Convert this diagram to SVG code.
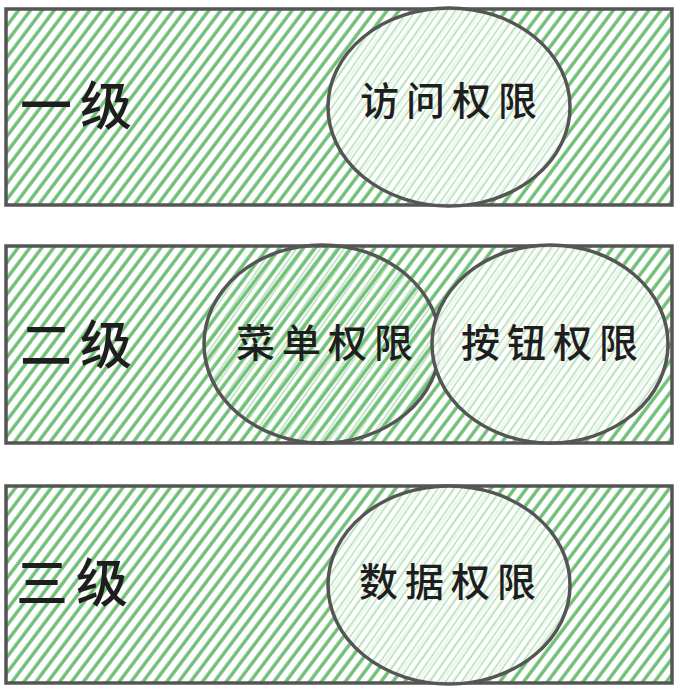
<svg xmlns="http://www.w3.org/2000/svg" width="679" height="689" viewBox="0 0 679 689">
<defs>
<pattern id="hatch" width="9.5" height="9.5" patternUnits="userSpaceOnUse" patternTransform="rotate(37)">
<rect width="9.5" height="9.5" fill="#ffffff"/>
<line x1="2" y1="-1" x2="2" y2="11" stroke="#70bf76" stroke-width="3.4"/>
</pattern>
<pattern id="thin" width="6.5" height="6.5" patternUnits="userSpaceOnUse" patternTransform="rotate(35)">
<line x1="2" y1="-1" x2="2" y2="8" stroke="#7cc582" stroke-width="0.8"/>
</pattern>
</defs>
<style>
.box{fill:url(#hatch);stroke:#555555;stroke-width:3.5}
.ell{stroke:#555555;stroke-width:3.5}
.light{fill:#ffffff;fill-opacity:0.88}
.thin{fill:url(#thin)}
.lvl{font-family:"Noto Sans CJK SC","Noto Sans",sans-serif;font-size:52px;font-weight:500;fill:#1e1e1e;letter-spacing:8px}
.lbl{font-family:"Noto Sans CJK SC","Noto Sans",sans-serif;font-size:39px;font-weight:500;fill:#1e1e1e;letter-spacing:7px;text-anchor:middle}
</style>
<g id="level1">
<rect class="box" x="6" y="9" width="666" height="196"/>
<text class="lvl" x="20" y="125">一级</text>
</g>
<g id="access">
<ellipse class="light" cx="449" cy="107" rx="121" ry="99"/>
<ellipse class="thin ell" cx="449" cy="107" rx="121" ry="99"/>
<text class="lbl" x="452" y="115">访问权限</text>
</g>
<g id="level2">
<rect class="box" x="6" y="246" width="666" height="197"/>
<text class="lvl" x="20" y="364">二级</text>
</g>
<g id="menu">
<ellipse class="thin ell" cx="322" cy="344" rx="118" ry="99"/>
<text class="lbl" x="328" y="357">菜单权限</text>
</g>
<g id="button">
<ellipse class="light" cx="550" cy="344" rx="118" ry="99"/>
<ellipse class="thin ell" cx="550" cy="344" rx="118" ry="99"/>
<text class="lbl" x="553" y="357">按钮权限</text>
</g>
<g id="level3">
<rect class="box" x="6" y="486" width="666" height="197"/>
<text class="lvl" x="16" y="602">三级</text>
</g>
<g id="data">
<ellipse class="light" cx="449" cy="585" rx="121" ry="99"/>
<ellipse class="thin ell" cx="449" cy="585" rx="121" ry="99"/>
<text class="lbl" x="451" y="596">数据权限</text>
</g>
</svg>
